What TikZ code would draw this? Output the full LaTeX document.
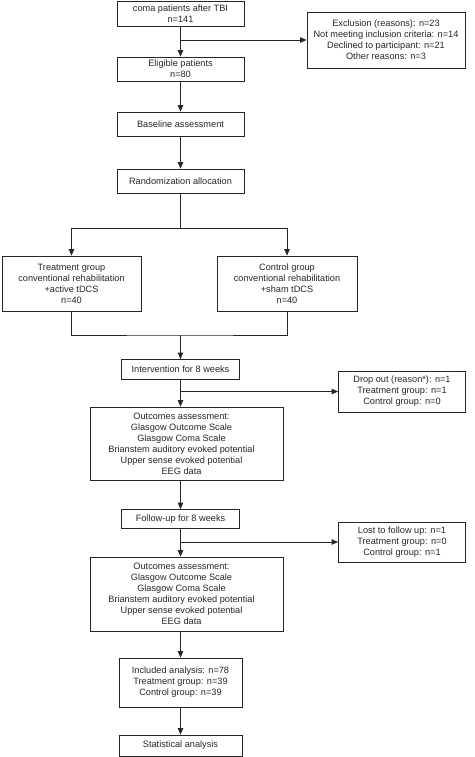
\documentclass[tikz,border=0pt]{standalone}
\usepackage{fontspec}
\setmainfont{Liberation Sans}
\usetikzlibrary{arrows.meta}
\newcommand\lsh[1]{#1\rule{10pt}{0pt}}
\begin{document}
\begin{tikzpicture}[x=1pt,y=-1pt,
  box/.style={draw=black!85, line width=0.8pt, align=center, inner sep=0pt,
    font=\fontsize{9.2}{11}\selectfont, text=black!85},
  line/.style={draw=black!85, line width=0.8pt},
  arr/.style={line, -{Triangle[length=6.5pt,width=5.5pt]}}]
\useasboundingbox (0,0) rectangle (474,757);
\node[box, minimum width=127, minimum height=25] (coma) at (180.5,13.5) {coma patients after TBI\\n=141};
\node[box, minimum width=158, minimum height=56] (excl) at (386,40) {Exclusion (reasons): n=23\\Not meeting inclusion criteria: n=14\\Declined to participant: n=21\\Other reasons: n=3};
\node[box, minimum width=127, minimum height=24] (elig) at (180.5,69) {Eligible patients\\n=80};
\node[box, minimum width=127, minimum height=24] (base) at (180.5,124) {Baseline assessment};
\node[box, minimum width=127, minimum height=24] (rand) at (180.5,181) {Randomization allocation};
\node[box, minimum width=139, minimum height=55] (treat) at (71.5,283.5) {Treatment group\\conventional rehabilitation\\+active tDCS\\n=40};
\node[box, minimum width=140, minimum height=55] (ctrl) at (287,283.5) {Control group\\conventional rehabilitation\\+sham tDCS\\n=40};
\node[box, minimum width=118, minimum height=20] (interv) at (180.5,369.5) {Intervention for 8 weeks};
\node[box, minimum width=127, minimum height=41] (drop) at (402,391.5) {Drop out (reason*): n=1\\Treatment group: n=1\\Control group: n=0};
\node[box, minimum width=193, minimum height=73] (out1) at (186.5,443.5) {\lsh{Outcomes assessment:}\\\lsh{Glasgow Outcome Scale}\\\lsh{Glasgow Coma Scale}\\\lsh{Brianstem auditory evoked potential}\\\lsh{Upper sense evoked potential}\\\lsh{EEG data}};
\node[box, minimum width=118, minimum height=19] (follow) at (180.5,519) {Follow-up for 8 weeks};
\node[box, minimum width=127, minimum height=40] (lost) at (402,542) {Lost to follow up: n=1\\Treatment group: n=0\\Control group: n=1};
\node[box, minimum width=193, minimum height=74] (out2) at (186.5,594) {\lsh{Outcomes assessment:}\\\lsh{Glasgow Outcome Scale}\\\lsh{Glasgow Coma Scale}\\\lsh{Brianstem auditory evoked potential}\\\lsh{Upper sense evoked potential}\\\lsh{EEG data}};
\node[box, minimum width=123, minimum height=49] (incl) at (180.5,682.5) {Included analysis: n=78\\Treatment group: n=39\\Control group: n=39};
\node[box, minimum width=123, minimum height=21] (stat) at (180.5,745.5) {Statistical analysis};
\coordinate (split) at (180.5,228);
\coordinate (join) at (180.5,335);
\draw[arr] (coma.south) -- (elig.north);
\draw[arr] (coma.south |- excl.west) -- (excl.west);
\draw[arr] (elig.south) -- (base.north);
\draw[arr] (base.south) -- (rand.north);
\draw[line] (rand.south) -- (split);
\draw[arr] (split) -| (treat.north);
\draw[arr] (split) -| (ctrl.north);
\draw[line] (treat.south) |- (join) -| (ctrl.south);
\draw[arr] (join) -- (interv.north);
\draw[arr] (interv.south) -- (interv.south |- out1.north);
\draw[arr] (interv.south |- drop.west) -- (drop.west);
\draw[arr] (interv.south |- out1.south) -- (follow.north);
\draw[arr] (follow.south) -- (follow.south |- out2.north);
\draw[arr] (follow.south |- lost.west) -- (lost.west);
\draw[arr] (follow.south |- out2.south) -- (incl.north);
\draw[arr] (incl.south) -- (stat.north);
\end{tikzpicture}
\end{document}
